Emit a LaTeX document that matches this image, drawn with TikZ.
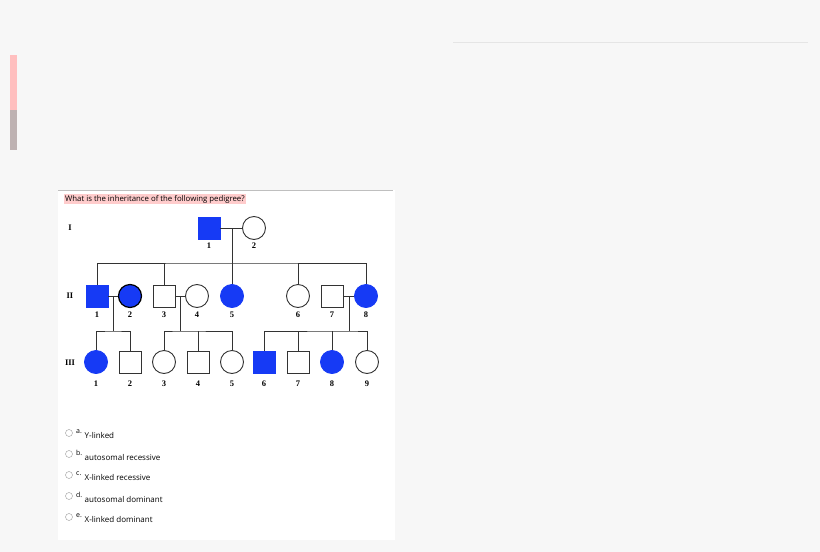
\documentclass[tikz,border=0pt]{standalone}
\usepackage{fontspec}
\newfontfamily\opensans{Open Sans}
\newfontfamily\serifb{Liberation Serif}
\begin{document}
\begin{tikzpicture}[x=1pt,y=-1pt,
  lin/.style={line width=0.9pt,black!80},
  sq/.style={draw=black!80,line width=0.9pt,minimum size=22pt,inner sep=0pt,rectangle},
  ci/.style={draw=black!80,line width=0.9pt,minimum size=23pt,inner sep=0pt,circle},
  aff/.style={fill=pedblue,draw=pedblue},
  num/.style={font=\serifb\bfseries\fontsize{8.5}{9}\selectfont,inner sep=0pt},
  opt/.style={font=\opensans\fontsize{8}{9}\selectfont,inner sep=0pt,anchor=west},
  radio/.style={circle,draw=black!40,minimum size=7pt,inner sep=0pt,line width=0.4pt}]
\definecolor{pedblue}{RGB}{22,58,245}
\definecolor{bg}{RGB}{247,247,247}
\fill[bg] (0,0) rectangle (820,552);
\useasboundingbox (0,0) rectangle (820,552);
\fill[white] (58,190) rectangle (395,540);
\draw[black!25,line width=0.8pt] (58,190.5) -- (393,190.5);
\fill[red!25] (10,55) rectangle (17,150);
\fill[red!15!black!30] (10,110) rectangle (17,150);
\draw[black!10,line width=1pt] (453,42) -- (808,42);
\node[anchor=west,inner sep=1pt,fill=red!20,font=\opensans\fontsize{7.8}{9}\selectfont] (q) at (64,199) {What is the inheritance of the following pedigree?};
% generation labels
\node[num] (gI) at (70,228) {I};
\node[num] (gII) at (70,296) {II};
\node[num] (gIII) at (70,363) {III};
% gen I
\node[sq,aff] (a1) at (209,228) {};
\node[ci] (a2) at (254,228) {};
% gen II
\node[sq,aff] (b1) at (97,296) {};
\node[ci,fill=pedblue,draw=black,line width=1.2pt] (b2) at (130,296) {};
\node[sq] (b3) at (164,296) {};
\node[ci] (b4) at (197,296) {};
\node[ci,aff] (b5) at (232,296) {};
\node[ci] (b6) at (298,296) {};
\node[sq] (b7) at (332,296) {};
\node[ci,aff] (b8) at (366,296) {};
% gen III
\node[ci,aff] (c1) at (96,362) {};
\node[sq] (c2) at (130,362) {};
\node[ci] (c3) at (164,362) {};
\node[sq] (c4) at (198,362) {};
\node[ci] (c5) at (232,362) {};
\node[sq,aff] (c6) at (264,362) {};
\node[sq] (c7) at (298,362) {};
\node[ci,aff] (c8) at (332,362) {};
\node[ci] (c9) at (367,362) {};
% numbers
\foreach \n/\x/\t in {a1/209/1,a2/254/2} \node[num] (l\n) at (\x,246) {\t};
\foreach \n/\x/\t in {b1/97/1,b2/130/2,b3/164/3,b4/197/4,b5/232/5,b6/298/6,b7/332/7,b8/366/8} \node[num] (l\n) at (\x,315) {\t};
\foreach \n/\x/\t in {c1/96/1,c2/130/2,c3/164/3,c4/198/4,c5/232/5,c6/264/6,c7/298/7,c8/332/8,c9/367/9} \node[num] (l\n) at (\x,384) {\t};
% coordinates
\coordinate (m1) at (232,228);
\coordinate (s1) at (232,263);
\coordinate (m2) at (113,296);
\coordinate (s2) at (113,331);
\coordinate (m3) at (180,296);
\coordinate (s3) at (180,331);
\coordinate (m4) at (349,296);
\coordinate (s4) at (349,331);
% gen I connectors
\draw[lin] (a1.east) -- (a2.west);
\draw[lin] (m1) -- (s1);
\draw[lin] (b1.north) |- (s1) -| (b8.north);
\draw[lin] (b3.north) -- (b3.north |- s1);
\draw[lin] (b5.north) -- (s1);
\draw[lin] (b6.north) -- (b6.north |- s1);
% gen II connectors
\draw[lin] (b1.east) -- (b2.west);
\draw[lin] (m2) -- (s2);
\draw[lin] (c1.north) |- (s2) -| (c2.north);
\draw[lin] (b3.east) -- (b4.west);
\draw[lin] (m3) -- (s3);
\draw[lin] (c3.north) |- (s3) -| (c5.north);
\draw[lin] (c4.north) -- (c4.north |- s3);
\draw[lin] (b7.east) -- (b8.west);
\draw[lin] (m4) -- (s4);
\draw[lin] (c6.north) |- (s4) -| (c9.north);
\draw[lin] (c7.north) -- (c7.north |- s4);
\draw[lin] (c8.north) -- (c8.north |- s4);
% options
\foreach \i/\y/\l/\t/\d in {1/433/a./Y-linked/2, 2/454/b./autosomal recessive/3, 3/475/c./X-linked recessive/2, 4/496/d./autosomal dominant/3, 5/517/e./X-linked dominant/2}{
  \node[radio] (r\i) at (69,\y) {};
  \node[opt,font=\opensans\fontsize{7}{8}\selectfont] (k\i) at (76,\y-1) {\l};
  \node[opt] (t\i) at (84.5,\y+\d) {\t};
}
\end{tikzpicture}
\end{document}
